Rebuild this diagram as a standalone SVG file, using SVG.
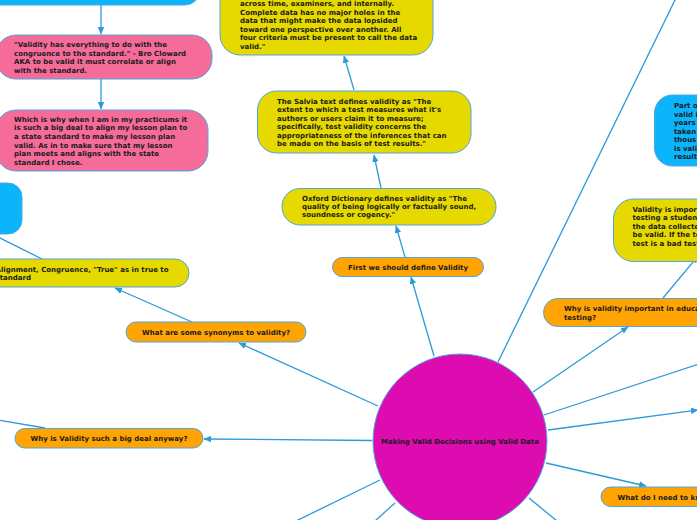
<svg xmlns="http://www.w3.org/2000/svg" width="697" height="520" viewBox="0 0 697 520">
<defs>
<style>
.c{fill:none;stroke:#2A9AD9;stroke-width:1.3}
.n{stroke:#4FA6DE;stroke-width:1}
.blue{fill:#0CB4FC}
.pink{fill:#F56C9B}
.yel{fill:#E5D900}
.org{fill:#FFA402}
.mag{fill:#DC0CB0}
.t{font-family:"DejaVu Sans","Verdana",sans-serif;font-weight:bold;font-size:7px;fill:#1b1b1b}
.m{text-anchor:middle}
</style>
<marker id="ah" markerUnits="userSpaceOnUse" markerWidth="8" markerHeight="8" viewBox="0 0 8 8" refX="7" refY="4" orient="auto">
<path d="M0,0.8 L7.5,4 L0,7.2 Z" fill="#2A9AD9"/>
</marker>
</defs>
<rect width="697" height="520" fill="#ffffff"/>

<g id="connectors">
<line class="c" x1="101" y1="5" x2="101" y2="34" marker-end="url(#ah)"/>
<line class="c" x1="101" y1="79" x2="101" y2="109" marker-end="url(#ah)"/>
<line class="c" x1="192" y1="322" x2="115" y2="288" marker-end="url(#ah)"/>
<line class="c" x1="378" y1="406" x2="239" y2="343" marker-end="url(#ah)"/>
<line class="c" x1="372" y1="440.5" x2="204" y2="439" marker-end="url(#ah)"/>
<line class="c" x1="434" y1="356" x2="411" y2="277" marker-end="url(#ah)"/>
<line class="c" x1="405" y1="257" x2="396" y2="226" marker-end="url(#ah)"/>
<line class="c" x1="381" y1="188" x2="374" y2="155" marker-end="url(#ah)"/>
<line class="c" x1="354" y1="90" x2="344" y2="56" marker-end="url(#ah)"/>
<line class="c" x1="533" y1="392" x2="628" y2="327" marker-end="url(#ah)"/>
<line class="c" x1="663" y1="298" x2="698" y2="256" marker-end="url(#ah)"/>
<line class="c" x1="548" y1="430" x2="698" y2="410" marker-end="url(#ah)"/>
<line class="c" x1="546" y1="463" x2="646" y2="486" marker-end="url(#ah)"/>
<line class="c" x1="42" y1="259" x2="-2" y2="237"/>
<line class="c" x1="45" y1="428" x2="-2" y2="420"/>
<line class="c" x1="498" y1="362" x2="676" y2="-2"/>
<line class="c" x1="544" y1="415" x2="699" y2="364"/>
<line class="c" x1="380" y1="480" x2="296" y2="521"/>
<line class="c" x1="395" y1="503" x2="375" y2="521"/>
<line class="c" x1="529" y1="498" x2="557" y2="521"/>
</g>

<g id="node-top-blue">
<rect class="n blue" x="-20" y="-40" width="220" height="45" rx="15"/>
</g>

<g id="node-cloward">
<rect class="n pink" x="-4" y="35" width="216" height="44" rx="20"/>
<text class="t"><tspan x="14" y="47">"Validity has everything to do with the</tspan><tspan x="14" y="55.8">congruence to the standard." - Bro Cloward</tspan><tspan x="14" y="64.4">AKA to be valid it must correlate or align</tspan><tspan x="14" y="73">with the standard.</tspan></text>
</g>

<g id="node-practicum">
<rect class="n pink" x="-4" y="110" width="212" height="61" rx="20"/>
<text class="t"><tspan x="14" y="121.5">Which is why when I am in my practicums it</tspan><tspan x="14" y="130.2">is such a big deal to align my lesson plan to</tspan><tspan x="14" y="138.9">a state standard to make my lesson plan</tspan><tspan x="14" y="147.6">valid. As in to make sure that my lesson</tspan><tspan x="14" y="156.3">plan meets and aligns with the state</tspan><tspan x="14" y="165">standard I chose.</tspan></text>
</g>

<g id="node-left-blue">
<rect class="n blue" x="-60" y="183" width="82" height="51" rx="14"/>
</g>

<g id="node-synonyms-answer">
<rect class="n yel" x="-30" y="259" width="219" height="28" rx="14"/>
<text class="t"><tspan x="-4.5" y="272">Alignment, Congruence, "True" as in true to</tspan><tspan x="-4.5" y="280.4">standard</tspan></text>
</g>

<g id="node-synonyms">
<rect class="n org" x="126" y="322" width="180" height="20" rx="10"/>
<text class="t m" x="216" y="334.8">What are some synonyms to validity?</text>
</g>

<g id="node-bigdeal">
<rect class="n org" x="15" y="428.5" width="188" height="19.5" rx="9.75"/>
<text class="t m" x="109" y="441.2">Why is Validity such a big deal anyway?</text>
</g>

<g id="node-define">
<rect class="n org" x="332.5" y="257.5" width="151" height="19" rx="9.5"/>
<text class="t m" x="408" y="270.2">First we should define Validity</text>
</g>

<g id="node-oxford">
<rect class="n yel" x="282" y="188.5" width="214" height="36.5" rx="18"/>
<text class="t"><tspan x="302" y="200.8">Oxford Dictionary defines validity as "The</tspan><tspan x="302" y="209.1">quality of being logically or factually sound,</tspan><tspan x="302" y="217.4">soundness or cogency."</tspan></text>
</g>

<g id="node-salvia">
<rect class="n yel" x="257.5" y="91" width="213.5" height="62" rx="19"/>
<text class="t"><tspan x="277" y="103.5">The Salvia text defines validity as "The</tspan><tspan x="277" y="112">extent to which a test measures what it's</tspan><tspan x="277" y="120.5">authors or users claim it to measure;</tspan><tspan x="277" y="129">specifically, test validity concerns the</tspan><tspan x="277" y="137.5">appropriateness of the inferences that can</tspan><tspan x="277" y="146">be made on the basis of test results."</tspan></text>
</g>

<g id="node-criteria">
<rect class="n yel" x="220" y="-30" width="213" height="85" rx="20"/>
<text class="t"><tspan x="240" y="6">across time, examiners, and internally.</tspan><tspan x="240" y="14.5">Complete data has no major holes in the</tspan><tspan x="240" y="23">data that might make the data lopsided</tspan><tspan x="240" y="31.5">toward one perspective over another. All</tspan><tspan x="240" y="40">four criteria must be present to call the data</tspan><tspan x="240" y="48.5">valid."</tspan></text>
</g>

<g id="node-part">
<rect class="n blue" x="654.5" y="95" width="80" height="71" rx="18"/>
<text class="t"><tspan x="674" y="108.3">Part o</tspan><tspan x="674" y="116.8">valid i</tspan><tspan x="674" y="125.3">years</tspan><tspan x="674" y="133.8">taken</tspan><tspan x="674" y="142.3">thous</tspan><tspan x="674" y="150.8">is vali</tspan><tspan x="674" y="159.3">result</tspan></text>
</g>

<g id="node-importance">
<rect class="n yel" x="613.5" y="199" width="120" height="62.5" rx="20"/>
<text class="t"><tspan x="632.5" y="211.5">Validity is impor</tspan><tspan x="632.5" y="220">testing a studen</tspan><tspan x="632.5" y="228.5">the data collecte</tspan><tspan x="632.5" y="237">be valid. If the te</tspan><tspan x="632.5" y="245.6">test is a bad test</tspan></text>
</g>

<g id="node-why-edu">
<rect class="n org" x="543.5" y="298.5" width="200" height="28" rx="14"/>
<text class="t"><tspan x="564" y="311.2">Why is validity important in educa</tspan><tspan x="564" y="320.3">testing?</tspan></text>
</g>

<g id="node-know">
<rect class="n org" x="601" y="487" width="140" height="19.5" rx="9.75"/>
<text class="t" x="617.5" y="499.7">What do I need to kn</text>
</g>

<g id="node-center">
<circle class="n mag" cx="460" cy="441" r="87"/>
<text class="t m" x="460" y="443.8">Making Valid Decisions using Valid Data</text>
</g>
</svg>
